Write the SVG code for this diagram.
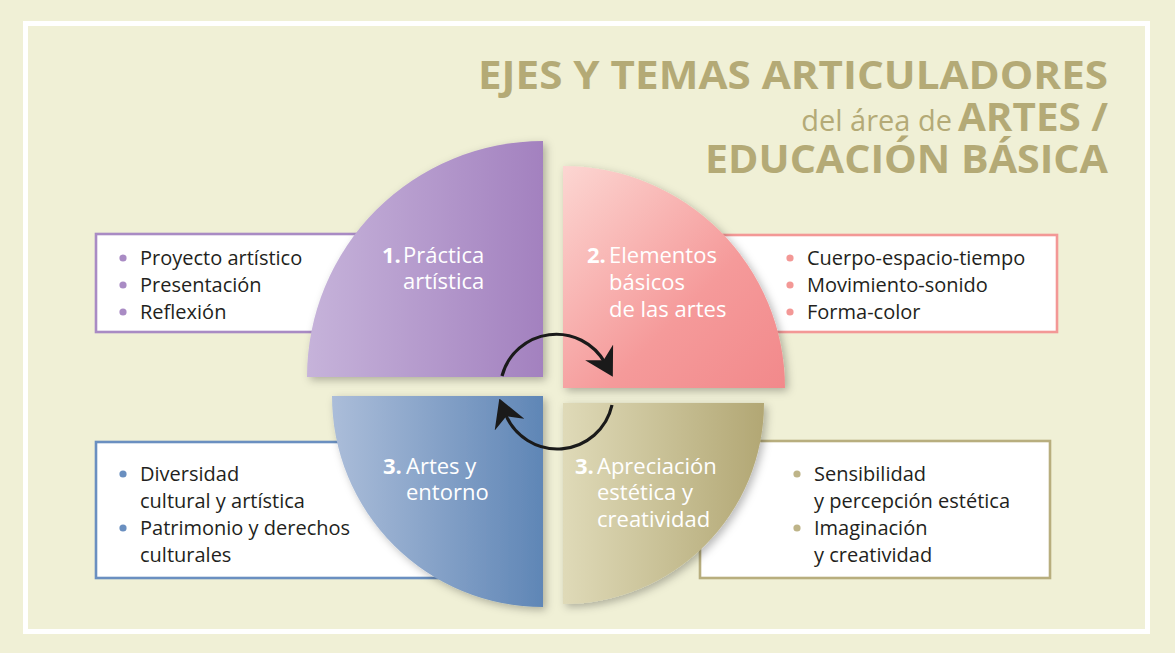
<svg xmlns="http://www.w3.org/2000/svg" width="1175" height="653" viewBox="0 0 1175 653">
<style>
.title{font-family:"Open Sans","Noto Sans",sans-serif;font-weight:700;fill:#b4aa76}
.sub{font-family:"Open Sans","Noto Sans",sans-serif;font-weight:400;fill:#b4aa76}
.item{font-family:"Open Sans","Noto Sans",sans-serif;font-size:20px;fill:#231f20}
.ql{font-family:"Open Sans","Noto Sans",sans-serif;font-size:22px;fill:#ffffff}
.num{font-weight:700}
.box{fill:#ffffff;stroke-width:2.6}
.arc{fill:none;stroke:#1a1a1a;stroke-width:3.2}
</style>
<defs>
<linearGradient id="gP" x1="0" y1="0" x2="1" y2="0"><stop offset="0" stop-color="#c6b3da"/><stop offset="1" stop-color="#a381bf"/></linearGradient>
<linearGradient id="gR" x1="0" y1="0" x2="1" y2="1"><stop offset="0" stop-color="#fcd6d2"/><stop offset="0.6" stop-color="#f59a9a"/><stop offset="1" stop-color="#f2898b"/></linearGradient>
<linearGradient id="gB" x1="0" y1="0" x2="1" y2="0"><stop offset="0" stop-color="#abbdd9"/><stop offset="1" stop-color="#5f86b6"/></linearGradient>
<linearGradient id="gT" x1="0" y1="0" x2="1" y2="0"><stop offset="0" stop-color="#dfdab8"/><stop offset="1" stop-color="#b2a774"/></linearGradient>
<filter id="sh" x="-20%" y="-20%" width="140%" height="140%"><feDropShadow dx="3" dy="3" stdDeviation="4" flood-color="#000" flood-opacity="0.28"/></filter>
<marker id="ah" markerUnits="userSpaceOnUse" viewBox="0 0 28 32" markerWidth="28" markerHeight="32" refX="12" refY="16" orient="auto"><path d="M0,0 L28,16 L0,32 L9,16 Z" fill="#1a1a1a"/></marker>
</defs>
<rect x="0" y="0" width="1175" height="653" fill="#f0f0d6"/>
<rect x="25.5" y="23.5" width="1122" height="608" fill="none" stroke="#ffffff" stroke-width="5"/>

<g id="title">
<text class="title" x="1108" y="89" font-size="40" text-anchor="end" textLength="630" lengthAdjust="spacingAndGlyphs">EJES Y TEMAS ARTICULADORES</text>
<text class="sub" x="952" y="131" font-size="29" text-anchor="end">del área de</text>
<text class="title" x="1108" y="131" font-size="40" text-anchor="end" textLength="150" lengthAdjust="spacingAndGlyphs">ARTES /</text>
<text class="title" x="1108" y="173" font-size="40" text-anchor="end" textLength="403" lengthAdjust="spacingAndGlyphs">EDUCACIÓN BÁSICA</text>
</g>

<g id="box1">
<rect class="box" x="96" y="234" width="360" height="98" stroke="#a98bc4"/>
<g fill="#a98bc4"><circle cx="123" cy="258" r="3.6"/><circle cx="123" cy="285" r="3.6"/><circle cx="123" cy="312" r="3.6"/></g>
<text class="item" x="140" y="265">Proyecto artístico</text>
<text class="item" x="140" y="292">Presentación</text>
<text class="item" x="140" y="319">Reflexión</text>
</g>
<g id="box2">
<rect class="box" x="700" y="235" width="357" height="97" stroke="#f39896"/>
<g fill="#f39896"><circle cx="790" cy="258" r="3.6"/><circle cx="790" cy="285" r="3.6"/><circle cx="790" cy="312" r="3.6"/></g>
<text class="item" x="807" y="265">Cuerpo-espacio-tiempo</text>
<text class="item" x="807" y="292">Movimiento-sonido</text>
<text class="item" x="807" y="319">Forma-color</text>
</g>
<g id="box3">
<rect class="box" x="96" y="442" width="360" height="136" stroke="#6a8fc0"/>
<g fill="#6a8fc0"><circle cx="123" cy="474" r="3.6"/><circle cx="123" cy="528" r="3.6"/></g>
<text class="item" x="140" y="481">Diversidad</text>
<text class="item" x="140" y="508">cultural y artística</text>
<text class="item" x="140" y="535">Patrimonio y derechos</text>
<text class="item" x="140" y="562">culturales</text>
</g>
<g id="box4">
<rect class="box" x="700" y="441" width="350" height="137" stroke="#b8ae7e"/>
<g fill="#beb488"><circle cx="797" cy="474" r="3.6"/><circle cx="797" cy="528" r="3.6"/></g>
<text class="item" x="814" y="481">Sensibilidad</text>
<text class="item" x="814" y="508">y percepción estética</text>
<text class="item" x="814" y="535">Imaginación</text>
<text class="item" x="814" y="562">y creatividad</text>
</g>

<g id="q1">
<path d="M543,377 L307,377 A236,236 0 0 1 543,141 Z" fill="url(#gP)" filter="url(#sh)"/>
<text class="ql" y="263"><tspan class="num" x="382">1.</tspan><tspan x="403">Práctica</tspan></text>
<text class="ql" x="403" y="289">artística</text>
</g>
<g id="q2">
<path d="M563,388 L563,166 A222,222 0 0 1 785,388 Z" fill="url(#gR)" filter="url(#sh)"/>
<text class="ql" y="263"><tspan class="num" x="587">2.</tspan><tspan x="609">Elementos</tspan></text>
<text class="ql" x="609" y="290">básicos</text>
<text class="ql" x="609" y="317">de las artes</text>
</g>
<g id="q3">
<path d="M543,396 L543,607 A211,211 0 0 1 332,396 Z" fill="url(#gB)" filter="url(#sh)"/>
<text class="ql" y="474"><tspan class="num" x="383">3.</tspan><tspan x="406">Artes y</tspan></text>
<text class="ql" x="406" y="500">entorno</text>
</g>
<g id="q4">
<path d="M563,403 L764,403 A201,201 0 0 1 563,604 Z" fill="url(#gT)" filter="url(#sh)"/>
<text class="ql" y="474"><tspan class="num" x="575">3.</tspan><tspan x="597">Apreciación</tspan></text>
<text class="ql" x="597" y="500">estética y</text>
<text class="ql" x="597" y="527">creatividad</text>
</g>

<g id="connectors">
<path class="arc" d="M502,376 A56,56 0 0 1 605,362.9" marker-end="url(#ah)"/>
<path class="arc" d="M612,405 A56,56 0 0 1 505.2,413.5" marker-end="url(#ah)"/>
</g>
</svg>
